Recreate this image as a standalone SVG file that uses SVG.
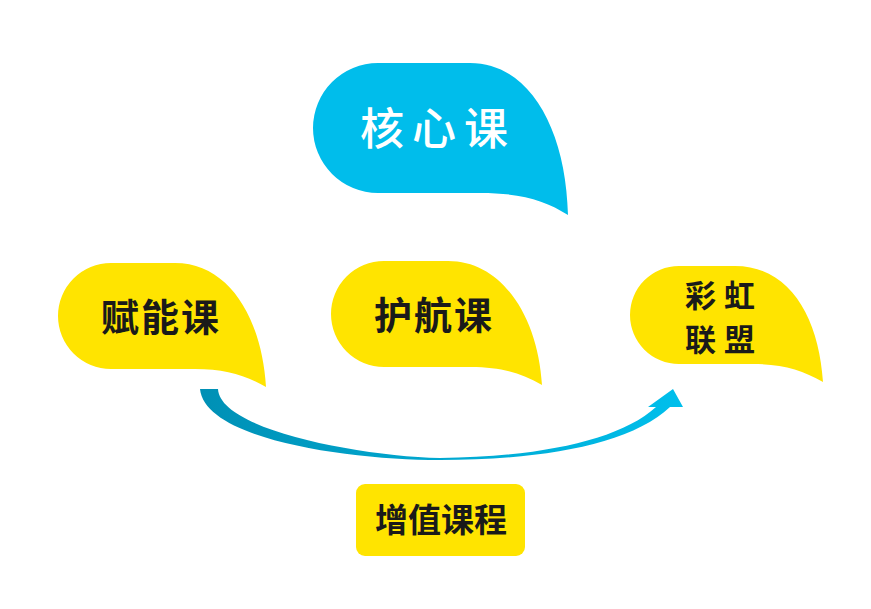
<svg xmlns="http://www.w3.org/2000/svg" width="871" height="609" viewBox="0 0 871 609">
<style>
.y{fill:#FFE400}
.t{font-family:"Noto Sans CJK SC",sans-serif;font-weight:bold;font-size:38px;fill:#1a1a1a;text-anchor:middle}
</style>
<defs><linearGradient id="g" x1="0" x2="1"><stop offset="0" stop-color="#0090B5"/><stop offset="1" stop-color="#00BFEC"/></linearGradient></defs>
<rect width="871" height="609" fill="#fff"/>
<g id="core"><path d="M378,63 H470 C530,63 566,130 568,215 C545,200 520,193 480,193 H378 A65,65 0 0 1 378,63 Z" fill="#00BDEB"/>
<text x="438" y="145" class="t" style="fill:#fff;font-weight:500;font-size:44px;letter-spacing:8px">核心课</text></g>
<g id="funeng"><path class="y" d="M111,263 H175 C230,263 262,320 266,387 C245,375 225,369 195,369 H111 A53,53 0 0 1 111,263 Z"/>
<text x="161" y="331" class="t" style="letter-spacing:2px">赋能课</text></g>
<g id="huhang"><path class="y" d="M384,261 H448 C503,261 538,318 542,385 C521,373 501,367 471,367 H384 A53,53 0 0 1 384,261 Z"/>
<text x="434" y="329" class="t" style="letter-spacing:2px">护航课</text></g>
<g id="caihong"><path class="y" d="M679,266 H735 C790,266 819,318 823,382 C802,370 782,364 752,364 H679 A49,49 0 0 1 679,266 Z"/>
<text x="724" y="307" class="t" style="font-size:31px;letter-spacing:8px">彩虹</text>
<text x="724" y="351" class="t" style="font-size:31px;letter-spacing:8px">联盟</text></g>
<g id="connectors"><path d="M200,389 L218,389 C220,430 360,456 440,458 C540,457 620,440 656,407 L648,407 L673,389 L683,407 L670,407 C630,445 540,460 440,460 C350,460 205,440 200,389 Z" fill="url(#g)"/></g>
<g id="label"><rect class="y" x="356" y="484" width="169" height="72" rx="9"/>
<text x="441" y="532" class="t" style="font-size:33px">增值课程</text></g>
</svg>
